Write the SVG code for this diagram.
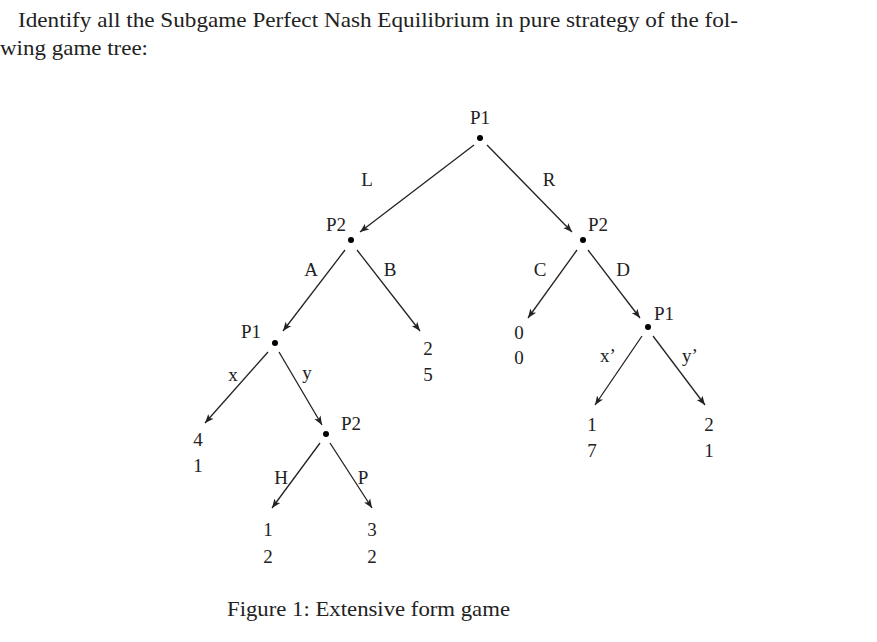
<svg xmlns="http://www.w3.org/2000/svg" width="877" height="642" viewBox="0 0 877 642">
<style>
text{font-family:"Liberation Serif",serif;font-size:19px;fill:#222}
.e{stroke:#222;stroke-width:1.3;fill:none;marker-end:url(#a)}
.c{text-anchor:middle}
</style>
<defs><marker id="a" viewBox="0 0 10 10" refX="10" refY="5" markerWidth="9" markerHeight="9" orient="auto" markerUnits="userSpaceOnUse"><path d="M0,1 L10,5 L0,9 L2.5,5 Z" fill="#222"/></marker></defs>
<rect width="877" height="642" fill="#fff"/>
<text x="18" y="27" style="font-size:21px" textLength="720" lengthAdjust="spacingAndGlyphs">Identify all the Subgame Perfect Nash Equilibrium in pure strategy of the fol-</text>
<text x="0" y="55" style="font-size:21px" textLength="148" lengthAdjust="spacingAndGlyphs">wing game tree:</text>
<g id="connectors">
<line class="e" x1="474" y1="145" x2="360" y2="232"/>
<line class="e" x1="487" y1="145" x2="572" y2="232"/>
<line class="e" x1="345" y1="250" x2="283" y2="331"/>
<line class="e" x1="357" y1="250" x2="420" y2="331"/>
<line class="e" x1="268" y1="352" x2="205" y2="423"/>
<line class="e" x1="279" y1="352" x2="322" y2="425"/>
<line class="e" x1="320" y1="443" x2="272" y2="508"/>
<line class="e" x1="330" y1="443" x2="372" y2="508"/>
<line class="e" x1="577" y1="250" x2="528" y2="318"/>
<line class="e" x1="588" y1="250" x2="640" y2="318"/>
<line class="e" x1="642" y1="336" x2="595" y2="405"/>
<line class="e" x1="653" y1="336" x2="705" y2="405"/>
</g>
<g class="c">
<text x="367" y="186">L</text><text x="549" y="186">R</text>
<text x="311" y="276">A</text><text x="390" y="276">B</text>
<text x="540" y="276">C</text><text x="623" y="276">D</text>
<text x="233" y="381">x</text><text x="307" y="379">y</text>
<text x="281" y="484">H</text><text x="363" y="484">P</text>
<text x="608" y="362">x’</text><text x="690" y="362">y’</text>
</g>
<g id="n1"><circle cx="480" cy="138" r="3"/><text class="c" x="480" y="124">P1</text></g>
<g id="n2"><circle cx="351" cy="240" r="3"/><text class="c" x="336" y="231">P2</text></g>
<g id="n3"><circle cx="583" cy="240" r="3"/><text class="c" x="598" y="231">P2</text></g>
<g id="n4"><circle cx="275" cy="343" r="3"/><text class="c" x="251" y="338">P1</text></g>
<g id="n5"><circle cx="326" cy="434" r="3"/><text class="c" x="351" y="430">P2</text></g>
<g id="n6"><circle cx="648" cy="327" r="3"/><text class="c" x="664" y="320">P1</text></g>
<g class="c">
<g id="t1"><text x="428" y="355">2</text><text x="428" y="381">5</text></g>
<g id="t2"><text x="198" y="446">4</text><text x="198" y="472">1</text></g>
<g id="t3"><text x="268" y="536">1</text><text x="268" y="563">2</text></g>
<g id="t4"><text x="372" y="536">3</text><text x="372" y="563">2</text></g>
<g id="t5"><text x="519" y="339">0</text><text x="519" y="364">0</text></g>
<g id="t6"><text x="592" y="431">1</text><text x="592" y="457">7</text></g>
<g id="t7"><text x="709" y="431">2</text><text x="709" y="457">1</text></g>
</g>
<text x="227" y="616" style="font-size:21px" textLength="283" lengthAdjust="spacingAndGlyphs">Figure 1: Extensive form game</text>
</svg>
